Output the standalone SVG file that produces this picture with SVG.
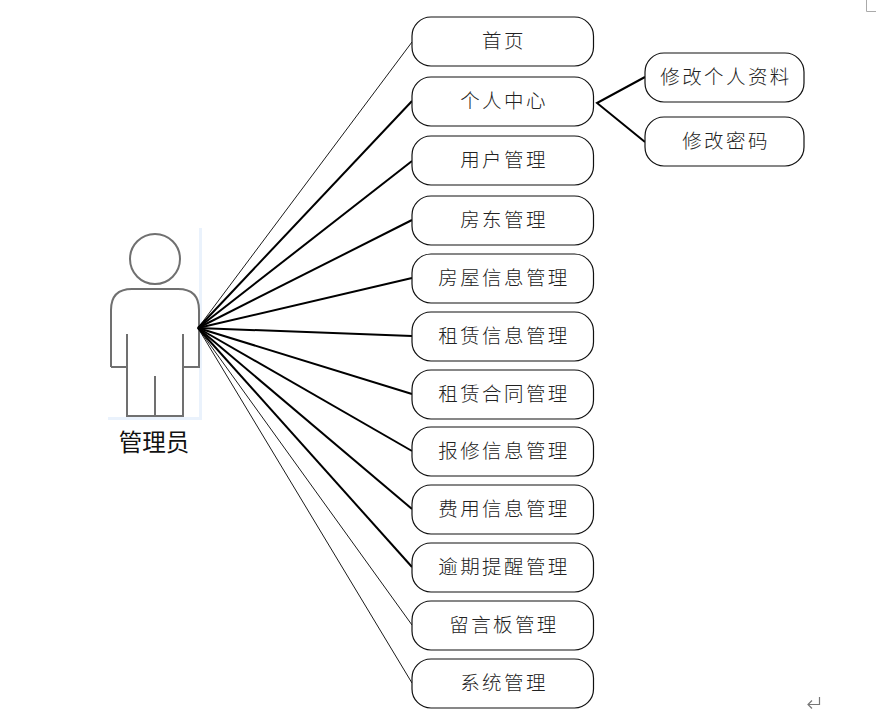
<svg xmlns="http://www.w3.org/2000/svg" width="876" height="719" viewBox="0 0 876 719">
<style>
.n{fill:#fff;stroke:#111;stroke-width:1.2}
.t{font-family:"Noto Sans CJK SC","Noto Sans",sans-serif;font-size:19.5px;font-weight:300;fill:#222;text-anchor:middle;letter-spacing:2.4px}
.c{stroke:#000;fill:none;stroke-width:2}
.f{stroke:#000;fill:none;stroke-width:.9}
</style>
<rect width="876" height="719" fill="#fff"/>
<path d="M866.500 0V11.500H876" fill="none" stroke="#aaa" stroke-width="1"/>
<g id="actor">
<path d="M200.500 228V418.500H108" fill="none" stroke="#eaf2fc" stroke-width="3"/>
<circle cx="155" cy="259" r="25" fill="#fff" stroke="#707070" stroke-width="2"/>
<path d="M111 367V310Q111 289 132 289H178Q199 289 199 310V367H183M111 367H127M127 334V416H183V334M155 376V416" fill="#fff" stroke="#707070" stroke-width="2"/>
<text x="154" y="451" font-family="'Noto Sans CJK SC',sans-serif" font-size="23.500" fill="#111" text-anchor="middle">管理员</text>
</g>
<g id="connectors">
<path class="f" d="M198 328L412 42"/>
<path class="c" d="M198 328L412 101"/>
<path class="c" d="M198 328L412 161"/>
<path class="c" d="M198 328L412 220"/>
<path class="c" d="M198 328L412 278"/>
<path class="c" d="M198 328L412 336"/>
<path class="c" d="M198 328L412 394"/>
<path class="c" d="M198 328L412 451"/>
<path class="c" d="M198 328L412 509"/>
<path class="c" d="M198 328L412 567"/>
<path class="f" d="M198 328L412 625"/>
<path class="f" d="M198 328L412 683"/>
<path class="c" d="M645 77L597 103L645 142"/>
</g>
<g id="n1"><rect class="n" x="412" y="17" width="181.500" height="49" rx="19"/><text class="t" x="504" y="48">首页</text></g>
<g id="n2"><rect class="n" x="412" y="77" width="181.500" height="49" rx="19"/><text class="t" x="504" y="108">个人中心</text></g>
<g id="n3"><rect class="n" x="412" y="136" width="181.500" height="49" rx="19"/><text class="t" x="504" y="167">用户管理</text></g>
<g id="n4"><rect class="n" x="412" y="196" width="181.500" height="49" rx="19"/><text class="t" x="504" y="227">房东管理</text></g>
<g id="n5"><rect class="n" x="412" y="254" width="181.500" height="49" rx="19"/><text class="t" x="504" y="285">房屋信息管理</text></g>
<g id="n6"><rect class="n" x="412" y="312" width="181.500" height="49" rx="19"/><text class="t" x="504" y="343">租赁信息管理</text></g>
<g id="n7"><rect class="n" x="412" y="370" width="181.500" height="49" rx="19"/><text class="t" x="504" y="401">租赁合同管理</text></g>
<g id="n8"><rect class="n" x="412" y="427" width="181.500" height="49" rx="19"/><text class="t" x="504" y="458">报修信息管理</text></g>
<g id="n9"><rect class="n" x="412" y="485" width="181.500" height="49" rx="19"/><text class="t" x="504" y="516">费用信息管理</text></g>
<g id="n10"><rect class="n" x="412" y="543" width="181.500" height="49" rx="19"/><text class="t" x="504" y="574">逾期提醒管理</text></g>
<g id="n11"><rect class="n" x="412" y="601" width="181.500" height="49" rx="19"/><text class="t" x="504" y="632">留言板管理</text></g>
<g id="n12"><rect class="n" x="412" y="659" width="181.500" height="49" rx="19"/><text class="t" x="504" y="690">系统管理</text></g>
<g id="s1"><rect class="n" x="645" y="53" width="159" height="49" rx="19"/><text class="t" x="726" y="84">修改个人资料</text></g>
<g id="s2"><rect class="n" x="645" y="117" width="159" height="49" rx="19"/><text class="t" x="726" y="148">修改密码</text></g>
<path d="M819.500 697V704.500H808M812 700.500L808 704.500L812 708.500" fill="none" stroke="#777" stroke-width="1.200"/>
</svg>
